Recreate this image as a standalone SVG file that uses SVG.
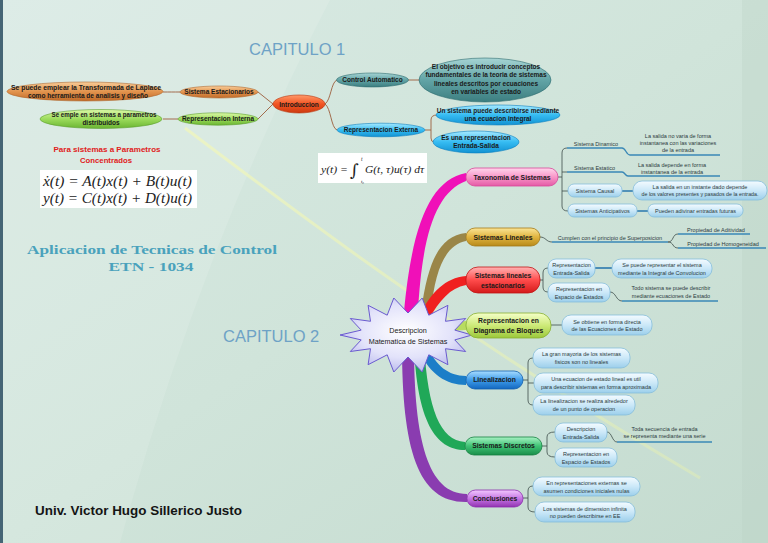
<svg xmlns="http://www.w3.org/2000/svg" width="768" height="543" viewBox="0 0 768 543">
<defs>
<linearGradient id="bg" x1="0" y1="0" x2="1" y2="1">
<stop offset="0" stop-color="#d9eae4"/><stop offset="0.5" stop-color="#d0e4da"/><stop offset="1" stop-color="#c4dbcf"/>
</linearGradient>
<linearGradient id="beam" x1="0" y1="0" x2="1" y2="1">
<stop offset="0" stop-color="#eef5c0" stop-opacity="0.85"/><stop offset="1" stop-color="#e6f0b0" stop-opacity="0.45"/>
</linearGradient>
<linearGradient id="gBub" x1="0" y1="0" x2="0" y2="1">
<stop offset="0" stop-color="#f4fbff"/><stop offset="0.5" stop-color="#cbe8f8"/><stop offset="1" stop-color="#9ccfeb"/>
</linearGradient>
<linearGradient id="gPink" x1="0" y1="0" x2="0" y2="1">
<stop offset="0" stop-color="#ffd6ec"/><stop offset="0.5" stop-color="#f896c8"/><stop offset="1" stop-color="#e45aa6"/>
</linearGradient>
<linearGradient id="gGold" x1="0" y1="0" x2="0" y2="1">
<stop offset="0" stop-color="#fbe596"/><stop offset="0.5" stop-color="#e0b440"/><stop offset="1" stop-color="#b88a1a"/>
</linearGradient>
<linearGradient id="gRed" x1="0" y1="0" x2="0" y2="1">
<stop offset="0" stop-color="#ffb4b4"/><stop offset="0.5" stop-color="#ff4c4c"/><stop offset="1" stop-color="#d41a1a"/>
</linearGradient>
<linearGradient id="gLime" x1="0" y1="0" x2="0" y2="1">
<stop offset="0" stop-color="#f4ffc8"/><stop offset="0.5" stop-color="#cdea78"/><stop offset="1" stop-color="#9cc83a"/>
</linearGradient>
<linearGradient id="gBlue" x1="0" y1="0" x2="0" y2="1">
<stop offset="0" stop-color="#a8dcff"/><stop offset="0.5" stop-color="#3e9cea"/><stop offset="1" stop-color="#1468c0"/>
</linearGradient>
<linearGradient id="gGreen" x1="0" y1="0" x2="0" y2="1">
<stop offset="0" stop-color="#a8f2c4"/><stop offset="0.5" stop-color="#3fc274"/><stop offset="1" stop-color="#1a8e4a"/>
</linearGradient>
<linearGradient id="gPurp" x1="0" y1="0" x2="0" y2="1">
<stop offset="0" stop-color="#f2c8ff"/><stop offset="0.5" stop-color="#c676e4"/><stop offset="1" stop-color="#9234b2"/>
</linearGradient>
<linearGradient id="gOr" x1="0" y1="0" x2="0" y2="1">
<stop offset="0" stop-color="#f8cc98"/><stop offset="0.5" stop-color="#e2944e"/><stop offset="1" stop-color="#c06a28"/>
</linearGradient>
<linearGradient id="gLg" x1="0" y1="0" x2="0" y2="1">
<stop offset="0" stop-color="#dcf8a8"/><stop offset="0.5" stop-color="#9cdc5c"/><stop offset="1" stop-color="#6ab432"/>
</linearGradient>
<linearGradient id="gIntro" x1="0" y1="0" x2="0" y2="1">
<stop offset="0" stop-color="#ff9a6a"/><stop offset="0.5" stop-color="#f25422"/><stop offset="1" stop-color="#cc3a10"/>
</linearGradient>
<linearGradient id="gTeal" x1="0" y1="0" x2="0" y2="1">
<stop offset="0" stop-color="#a6d4d4"/><stop offset="0.5" stop-color="#62a4a6"/><stop offset="1" stop-color="#3c7e80"/>
</linearGradient>
<linearGradient id="gCyan" x1="0" y1="0" x2="0" y2="1">
<stop offset="0" stop-color="#a8eaff"/><stop offset="0.5" stop-color="#36bcf2"/><stop offset="1" stop-color="#1292d2"/>
</linearGradient>
<radialGradient id="gStar" cx="0.5" cy="0.45" r="0.6">
<stop offset="0" stop-color="#ffffff"/><stop offset="0.6" stop-color="#e2e2fa"/><stop offset="1" stop-color="#b4b4ea"/>
</radialGradient>
<style>
.t{font-family:"Liberation Sans",Arial,sans-serif;text-anchor:middle;fill:#1a1a1a}
.nb{font-size:6.8px;font-weight:bold}
.lb{font-size:6.5px;font-weight:bold}
.s{font-size:5.5px;fill:#2c3a40}
.bub{fill:url(#gBub);stroke:#86bedc;stroke-width:0.8}
.con{fill:none;stroke:#3e4c4a;stroke-width:0.8}
.ul{fill:none;stroke:#3a88b6;stroke-width:1.3}
.bl{fill:none;stroke:#2a78ae;stroke-width:1.6}
.tl{fill:none;stroke:#9c5e3c;stroke-width:0.9}
.cap{font-family:"Liberation Sans",Arial,sans-serif;font-size:16.5px;fill:#6ea2c6}
.m{font-family:"Liberation Serif","Times New Roman",serif;font-style:italic;fill:#222}
</style>
</defs>

<rect x="0" y="0" width="768" height="543" fill="url(#bg)"/>
<path d="M0,0 L330,0 Q200,250 120,543 L0,543 Z" fill="#ffffff" opacity="0.12"/>
<path d="M742,0 L768,0 L768,543 L742,543 Z" fill="#b8d2c4" opacity="0.3"/>
<path d="M185,128 C300,215 450,330 700,478" fill="none" stroke="url(#beam)" stroke-width="3"/>
<rect x="0" y="0" width="3" height="543" fill="#456575"/>

<text class="cap" x="249" y="55">CAPITULO 1</text>
<text class="cap" x="223" y="342">CAPITULO 2</text>

<g id="connectors">
<path class="tl" d="M273,104 L258,92 M273,104 L258,119 M180,92 C173,92 170,92 163,92 M178,119 L163,119 M325,104 C331,100 331,82 337,80 M325,104 C331,108 331,128 337,130 M408,80 L420,80 M425,130 H431 M437,115 Q431,115 431,120 V138 Q431,142 434,142"/>
<path d="M466,173 C430,180 412,225 404,312 L418,312 C422,235 436,192 466,181 Z" fill="#f010b8"/>
<path d="M466,233 C440,236 428,260 421,312 L431,312 C435,268 446,245 466,241 Z" fill="#9a8648"/>
<path d="M466,276 C445,278 432,292 420,314 L428,320 C440,300 450,288 466,285 Z" fill="#f02020"/>
<path d="M466,321 C450,322 440,324 425,325 L425,335 C440,334 452,330 466,330 Z" fill="#b8dc60"/>
<path d="M466,376 C448,376 436,365 428,348 L420,352 C430,374 446,385 466,385 Z" fill="#1c7ec8"/>
<path d="M465,442 C440,440 428,410 424,345 L414,345 C417,420 435,450 465,450 Z" fill="#20a858"/>
<path d="M467,494 C428,494 414,440 414,345 L402,345 C402,450 418,503 467,502 Z" fill="#8a3cb0"/>
<path class="con" d="M558,177 H562 M567,148 Q562,148 562,153 V206 Q562,211 568,211 M562,172 H567 M562,191 H568"/>
<path class="ul" d="M567,148 H622 C626,148 626,155 630,155 H720 M567,172 H622 C625,172 625,176 628,176 H720"/>
<path class="bl" d="M622,191 H633 M637,211 H648"/>
<path class="con" d="M540,237 C546,237 546,242 552,242 M668,242 C674,242 672,234 678,234 M668,242 C674,242 672,248 678,248"/>
<path class="ul" d="M552,242 H668 M678,234 H750 M678,248 H766"/>
<path class="con" d="M540,280 H543 M548,268 Q543,268 543,273 V287 Q543,292 548,292 M610,292 C616,292 616,301 622,301"/>
<path class="bl" d="M595,268 H612"/>
<path class="ul" d="M622,301 H718"/>
<path class="con" d="M551,325 H562"/>
<path class="con" d="M523,380 H528 M533,358 Q528,358 528,363 V400 Q528,405 533,405 M528,383 H534"/>
<path class="con" d="M542,446 H547 M555,432 Q547,432 547,437 V452 Q547,457 555,457 M607,432 C612,432 612,442 617,442"/>
<path class="ul" d="M617,442 H712"/>
<path class="con" d="M523,498 H528 M533,486 Q528,486 528,491 V507 Q528,512 535,512"/>
</g>

<g id="n-laplace"><ellipse cx="85" cy="91.5" rx="78" ry="9.5" fill="url(#gOr)" stroke="#b06a30" stroke-width="0.6"/>
<text class="t lb" x="86" y="90" textLength="150" lengthAdjust="spacingAndGlyphs">Se puede emplear la Transformada de Laplace</text>
<text class="t lb" x="88" y="97.8" textLength="120" lengthAdjust="spacingAndGlyphs">como herramienta de analisis y diseño</text></g>
<g id="n-estac"><ellipse cx="219" cy="92" rx="39" ry="6" fill="url(#gOr)" stroke="#b06a30" stroke-width="0.6"/>
<text class="t lb" x="219" y="94.3">Sistema Estacionarios</text></g>
<g id="n-distrib"><ellipse cx="101" cy="119" rx="61" ry="9.5" fill="url(#gLg)" stroke="#5ea030" stroke-width="0.6"/>
<text class="t lb" x="104" y="117.2" textLength="105" lengthAdjust="spacingAndGlyphs">Se emple en sistemas a parametros</text>
<text class="t lb" x="101" y="125">distribuidos</text></g>
<g id="n-interna"><ellipse cx="218" cy="119" rx="40" ry="6.2" fill="url(#gLg)" stroke="#5ea030" stroke-width="0.6"/>
<text class="t lb" x="218" y="121.3">Representacion Interna</text></g>
<g id="n-intro"><ellipse cx="299" cy="104" rx="26" ry="9" fill="url(#gIntro)" stroke="#b83008" stroke-width="0.6"/>
<text class="t lb" x="299" y="106.5">Introduccion</text></g>
<g id="n-control"><ellipse cx="372.5" cy="80" rx="36" ry="7" fill="url(#gTeal)" stroke="#2e6c6e" stroke-width="0.6"/>
<text class="t lb" x="372.5" y="82.4">Control Automatico</text></g>
<g id="n-objetivo"><ellipse cx="485" cy="80" rx="66" ry="22" fill="url(#gTeal)" stroke="#2e6c6e" stroke-width="0.6"/>
<text class="t lb" x="486" y="69">El objetivo es introducir conceptos</text>
<text class="t lb" x="486" y="77.3">fundamentales de la teoria de sistemas</text>
<text class="t lb" x="486" y="85.6">lineales descritos por ecuaciones</text>
<text class="t lb" x="486" y="93.9">en variables de estado</text></g>
<g id="n-externa"><ellipse cx="381" cy="130" rx="44" ry="6.8" fill="url(#gCyan)" stroke="#0c80c0" stroke-width="0.6"/>
<text class="t lb" x="381" y="132.4">Representacion Externa</text></g>
<g id="n-integral"><ellipse cx="498" cy="115" rx="62" ry="10" fill="url(#gCyan)" stroke="#0c80c0" stroke-width="0.6"/>
<text class="t lb" x="498" y="112.8">Un sistema puede describirse mediante</text>
<text class="t lb" x="498" y="120.6">una ecuacion integral</text></g>
<g id="n-es"><ellipse cx="476" cy="142" rx="43" ry="11" fill="url(#gCyan)" stroke="#0c80c0" stroke-width="0.6"/>
<text class="t lb" x="476" y="140">Es una representacion</text>
<text class="t lb" x="476" y="148">Entrada-Salida</text></g>

<g id="f-integral">
<rect x="318" y="153" width="109" height="30" fill="#ffffff"/>
<text class="m" x="321" y="172.5" font-size="10.5" textLength="27" lengthAdjust="spacingAndGlyphs">y(t) =</text>
<text x="350" y="176" font-family="DejaVu Serif,serif" font-size="17" fill="#222">∫</text>
<text class="m" x="361" y="161" font-size="5.5">t</text>
<text class="m" x="361" y="182.5" font-size="4.8">t₀</text>
<text class="m" x="365" y="172.5" font-size="10.5" textLength="59" lengthAdjust="spacingAndGlyphs">G(t, τ)u(τ) dτ</text>
</g>

<g id="parametros">
<text class="t" x="107" y="152" font-size="7" font-weight="bold" style="fill:#e02020" textLength="107" lengthAdjust="spacingAndGlyphs">Para sistemas a Parametros</text>
<text class="t" x="106" y="163" font-size="7" font-weight="bold" style="fill:#e02020" textLength="52" lengthAdjust="spacingAndGlyphs">Concentrados</text>
<rect x="40" y="170" width="157" height="38" fill="#ffffff"/>
<text class="m" x="43" y="186" font-size="14" textLength="149" lengthAdjust="spacingAndGlyphs">ẋ(t) = A(t)x(t) + B(t)u(t)</text>
<text class="m" x="43" y="203" font-size="14" textLength="149" lengthAdjust="spacingAndGlyphs">y(t) = C(t)x(t) + D(t)u(t)</text>
</g>

<g id="titulo">
<text x="152" y="254" text-anchor="middle" font-family="Liberation Serif,Times New Roman,serif" font-size="13.5" font-weight="bold" fill="#4aa2bc" textLength="250" lengthAdjust="spacingAndGlyphs">Aplicacion de Tecnicas de Control</text>
<text x="151" y="271" text-anchor="middle" font-family="Liberation Serif,Times New Roman,serif" font-size="13.5" font-weight="bold" fill="#4aa2bc" textLength="85" lengthAdjust="spacingAndGlyphs">ETN - 1034</text>
</g>
<text x="35" y="515" font-family="Liberation Sans,Arial,sans-serif" font-size="13" font-weight="bold" fill="#141414" textLength="207" lengthAdjust="spacingAndGlyphs">Univ. Victor Hugo Sillerico Justo</text>

<g id="n-center">
<polygon points="472,335 454.8,339.9 465.7,351.5 445.5,348.7 447.9,364.7 428.8,354.8 422.2,372 408,357 393.8,372 387.2,354.8 368.1,364.7 370.5,348.7 350.3,351.5 361.2,339.9 340,335 361.2,330.1 350.3,318.5 370.5,321.3 368.1,305.3 387.2,315.2 393.8,298 408,313 422.2,298 428.8,315.2 447.9,305.3 445.5,321.3 465.7,318.5 454.8,330.1" fill="url(#gStar)" stroke="#6a5ad0" stroke-width="1"/>
<text class="t" x="408" y="333" font-size="7.2">Descripcion</text>
<text class="t" x="408" y="344" font-size="7.2">Matematica de Sistemas</text>
</g>

<g id="n-taxonomia"><rect x="466" y="168" width="92" height="18" rx="9" fill="url(#gPink)" stroke="#d8489a" stroke-width="0.8"/>
<text class="t nb" x="512" y="179.5">Taxonomia de Sistemas</text></g>
<g id="n-dinamico"><text class="t s" x="596" y="146">Sistema Dinamico</text>
<text class="t s" x="678" y="138">La salida no varia de forma</text>
<text class="t s" x="678" y="145">instantanea con las variaciones</text>
<text class="t s" x="678" y="152">de la entrada</text></g>
<g id="n-estatico"><text class="t s" x="594.5" y="169.5">Sistema Estatico</text>
<text class="t s" x="672" y="167">La salida depende en forma</text>
<text class="t s" x="672" y="173.5">instantanea de la entrada</text></g>
<g id="n-causal"><rect class="bub" x="568" y="184" width="54" height="13" rx="6"/>
<text class="t s" x="595" y="192.6">Sistema Causal</text>
<rect class="bub" x="633" y="181" width="134" height="19" rx="9"/>
<text class="t s" x="700" y="189">La salida en un instante dado depende</text>
<text class="t s" x="700" y="196.4" style="font-size:5.3px">de los valores presentes y pasados de la entrada.</text></g>
<g id="n-anticip"><rect class="bub" x="568" y="204" width="69" height="13" rx="6"/>
<text class="t s" x="602.5" y="212.5">Sistemas Anticipativos</text>
<rect class="bub" x="648" y="204" width="95" height="13" rx="6"/>
<text class="t s" x="695.5" y="212.5">Pueden adivinar entradas futuras</text></g>

<g id="n-lineales"><rect x="466" y="228" width="74" height="18" rx="9" fill="url(#gGold)" stroke="#a47a16" stroke-width="0.8"/>
<text class="t nb" x="503" y="239.5">Sistemas Lineales</text>
<text class="t s" x="610" y="239.5">Cumplen con el principio de Superposicion</text>
<text class="t s" x="716" y="232">Propiedad de Aditividad</text>
<text class="t s" x="723" y="246">Propiedad de Homogeneidad</text></g>

<g id="n-estacionarios"><rect x="466" y="267" width="74" height="26" rx="12" fill="url(#gRed)" stroke="#c01414" stroke-width="0.8"/>
<text class="t nb" x="503" y="278">Sistemas lineales</text>
<text class="t nb" x="503" y="287.5">estacionarios</text>
<rect class="bub" x="548" y="259" width="47" height="19" rx="8"/>
<text class="t s" x="571.5" y="267">Representacion</text>
<text class="t s" x="571.5" y="274.5">Entrada-Salida</text>
<rect class="bub" x="612" y="259" width="100" height="19" rx="9"/>
<text class="t s" x="662" y="267">Se puede representar el sistema</text>
<text class="t s" x="662" y="274.5">mediante la Integral de Convolucion</text>
<rect class="bub" x="548" y="283" width="62" height="19" rx="8"/>
<text class="t s" x="579" y="291">Representacion en</text>
<text class="t s" x="579" y="298.5">Espacio de Estados</text>
<text class="t s" x="671" y="290">Todo sistema se puede describir</text>
<text class="t s" x="671" y="297.5">mediante ecuaciones de Estado</text></g>

<g id="n-bloques"><rect x="466" y="313" width="85" height="25" rx="12" fill="url(#gLime)" stroke="#88b030" stroke-width="0.8"/>
<text class="t nb" x="508.5" y="323.3">Representacion en</text>
<text class="t nb" x="508.5" y="332.6">Diagrama de Bloques</text>
<rect class="bub" x="562" y="315" width="90" height="20" rx="9"/>
<text class="t s" x="607" y="323.5">Se obtiene en forma directa</text>
<text class="t s" x="607" y="331">de las Ecuaciones de Estado</text></g>

<g id="n-linealizacion"><rect x="466" y="371" width="57" height="18" rx="9" fill="url(#gBlue)" stroke="#1060b0" stroke-width="0.8"/>
<text class="t nb" x="494.5" y="382.4">Linealizacion</text>
<rect class="bub" x="533" y="348" width="97" height="20" rx="9"/>
<text class="t s" x="581.5" y="356">La gran mayoria de los sistemas</text>
<text class="t s" x="581.5" y="363.5">fisicos son no lineales</text>
<rect class="bub" x="534" y="373" width="124" height="20" rx="9"/>
<text class="t s" x="596" y="381">Una ecuacion de estado lineal es util</text>
<text class="t s" x="596" y="388.5">para describir sistemas en forma aproximada</text>
<rect class="bub" x="533" y="395" width="102" height="20" rx="9"/>
<text class="t s" x="584" y="403">La linealizacion se realiza alrededor</text>
<text class="t s" x="584" y="410.5">de un punto de operacion</text></g>

<g id="n-discretos"><rect x="465" y="437" width="77" height="18" rx="9" fill="url(#gGreen)" stroke="#158040" stroke-width="0.8"/>
<text class="t nb" x="503.5" y="448.4">Sistemas Discretos</text>
<rect class="bub" x="555" y="423" width="52" height="19" rx="8"/>
<text class="t s" x="581" y="431">Descripcion</text>
<text class="t s" x="581" y="438.5">Entrada-Salida</text>
<rect class="bub" x="555" y="448" width="62" height="19" rx="8"/>
<text class="t s" x="586" y="456">Representacion en</text>
<text class="t s" x="586" y="463.5">Espacio de Estados</text>
<text class="t s" x="664.5" y="430.5">Toda secuencia de entrada</text>
<text class="t s" x="664.5" y="438">se representa mediante una serie</text></g>

<g id="n-conclusiones"><rect x="467" y="490" width="56" height="17" rx="8.5" fill="url(#gPurp)" stroke="#8a2cac" stroke-width="0.8"/>
<text class="t nb" x="495" y="501">Conclusiones</text>
<rect class="bub" x="533" y="477" width="107" height="19" rx="9"/>
<text class="t s" x="586.5" y="485">En representaciones externas se</text>
<text class="t s" x="586.5" y="492.5">asumen condiciones iniciales nulas</text>
<rect class="bub" x="535" y="502" width="100" height="20" rx="9"/>
<text class="t s" x="585" y="510.5">Los sistemas de dimension infinita</text>
<text class="t s" x="585" y="518">no pueden describirse en EE</text></g>
</svg>
